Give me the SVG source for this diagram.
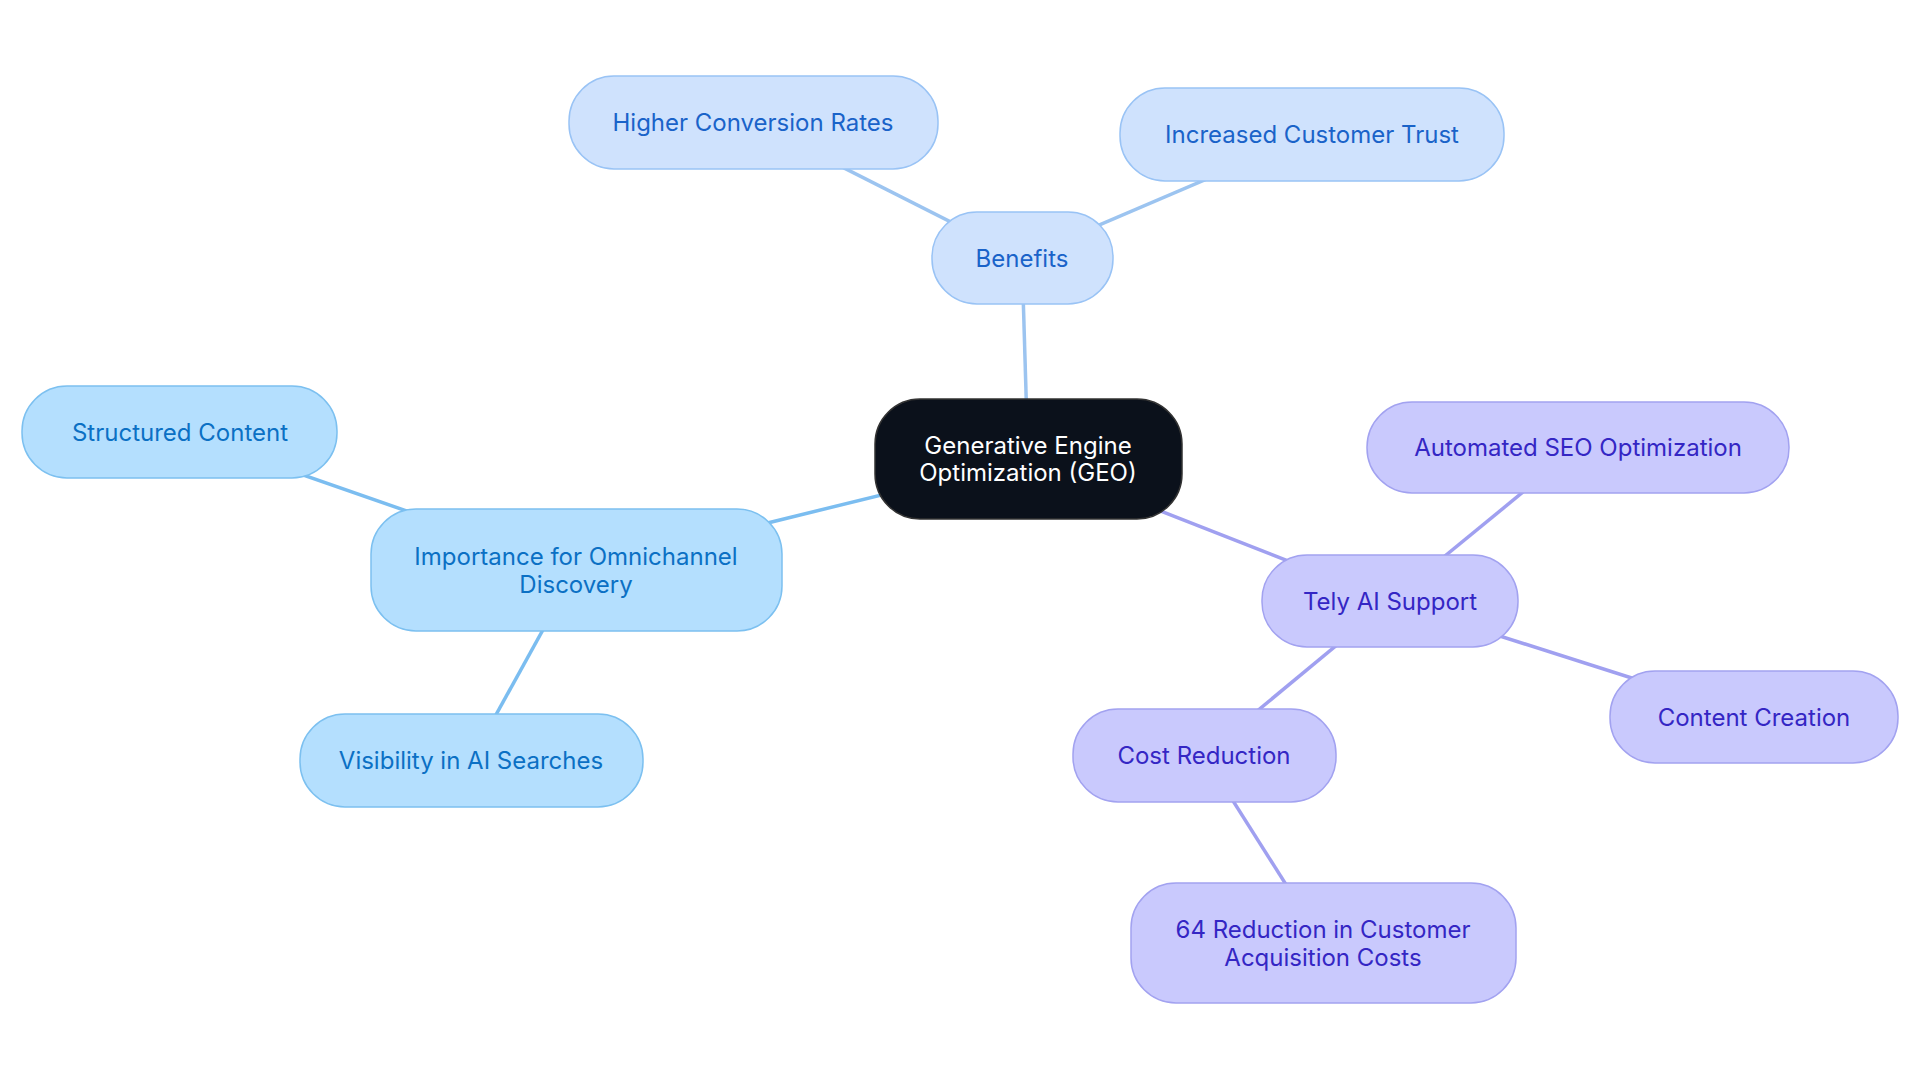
<svg xmlns="http://www.w3.org/2000/svg" width="1920" height="1083" viewBox="0 0 1920 1083">
<style>
text{font-family:Inter,"Noto Sans",sans-serif;font-size:24px;text-anchor:middle;dominant-baseline:central}
.b rect{fill:#cfe2fd;stroke:#99c3f5;stroke-width:1.5}
.b text{fill:#1a63c9}
.i rect{fill:#b4dffe;stroke:#7cc0f0;stroke-width:1.5}
.i text{fill:#0b70c4}
.p rect{fill:#c9c9fd;stroke:#a2a2f0;stroke-width:1.5}
.p text{fill:#3426c4}
.c rect{fill:#0b111b;stroke:#333;stroke-width:1.5}
.c text{fill:#fff}
#edges line{stroke-width:3.5}
.eb{stroke:#9cc4f0}.ei{stroke:#7bbdf0}.ep{stroke:#a0a0f0}
</style>
<g id="edges">
<line class="eb" x1="1028" y1="459" x2="1022" y2="258"/>
<line class="eb" x1="1022" y1="258" x2="753" y2="122"/>
<line class="eb" x1="1022" y1="258" x2="1312" y2="134"/>
<line class="ei" x1="1028" y1="459" x2="576" y2="570"/>
<line class="ei" x1="576" y1="570" x2="180" y2="432"/>
<line class="ei" x1="576" y1="570" x2="471" y2="760"/>
<line class="ep" x1="1028" y1="459" x2="1390" y2="601"/>
<line class="ep" x1="1390" y1="601" x2="1578" y2="447"/>
<line class="ep" x1="1390" y1="601" x2="1754" y2="717"/>
<line class="ep" x1="1390" y1="601" x2="1204" y2="755"/>
<line class="ep" x1="1204" y1="755" x2="1323" y2="943"/>
</g>
<g id="center" class="c"><rect x="875" y="399" width="307" height="120" rx="45"/><text x="1028" y="445">Generative Engine</text><text x="1028" y="472">Optimization (GEO)</text></g>
<g id="benefits" class="b"><rect x="932" y="212" width="181" height="92" rx="45"/><text x="1022" y="258">Benefits</text></g>
<g id="higher" class="b"><rect x="569" y="76" width="369" height="93" rx="45"/><text x="753" y="122">Higher Conversion Rates</text></g>
<g id="trust" class="b"><rect x="1120" y="88" width="384" height="93" rx="45"/><text x="1312" y="134">Increased Customer Trust</text></g>
<g id="importance" class="i"><rect x="371" y="509" width="411" height="122" rx="45"/><text x="576" y="556">Importance for Omnichannel</text><text x="576" y="584">Discovery</text></g>
<g id="structured" class="i"><rect x="22" y="386" width="315" height="92" rx="45"/><text x="180" y="432">Structured Content</text></g>
<g id="visibility" class="i"><rect x="300" y="714" width="343" height="93" rx="45"/><text x="471" y="760">Visibility in AI Searches</text></g>
<g id="tely" class="p"><rect x="1262" y="555" width="256" height="92" rx="45"/><text x="1390" y="601">Tely AI Support</text></g>
<g id="automated" class="p"><rect x="1367" y="402" width="422" height="91" rx="45"/><text x="1578" y="447">Automated SEO Optimization</text></g>
<g id="content" class="p"><rect x="1610" y="671" width="288" height="92" rx="45"/><text x="1754" y="717">Content Creation</text></g>
<g id="cost" class="p"><rect x="1073" y="709" width="263" height="93" rx="45"/><text x="1204" y="755">Cost Reduction</text></g>
<g id="reduction" class="p"><rect x="1131" y="883" width="385" height="120" rx="45"/><text x="1323" y="929">64 Reduction in Customer</text><text x="1323" y="957">Acquisition Costs</text></g>
</svg>
